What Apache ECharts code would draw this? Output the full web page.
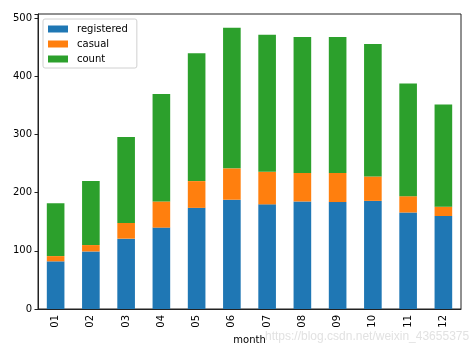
<!DOCTYPE html>
<html>
<head>
<meta charset="utf-8">
<script src="https://cdn.jsdelivr.net/npm/echarts@6/dist/echarts.min.js"></script>
<style>html,body{margin:0;padding:0;background:#fff}#c{width:474px;height:355px}</style>
</head>
<body>
<div id="c"></div>
<script>
const months = ['01','02','03','04','05','06','07','08','09','10','11','12'];
const registered = [82, 99, 121, 140, 174, 188, 180, 185, 184, 186, 166, 160];
const casual = [9, 11, 27, 45, 46, 54, 56, 49, 50, 42, 28, 16];
const count = [91, 110, 148, 185, 220, 242, 236, 234, 234, 228, 194, 176];
const yTicks = [0, 100, 200, 300, 400, 500];

const font = 'DejaVu Sans';
const chart = echarts.init(document.getElementById('c'), null, {renderer: 'canvas'});
const mkSeries = (name, data, color) => ({
  name, type: 'bar', stack: 'total', data, barWidth: '50%',
  itemStyle: {color}, emphasis: {disabled: true}
});
chart.setOption({
  animation: false,
  textStyle: {fontFamily: font},
  grid: {left: 38, right: 13, top: 14, bottom: 46, show: true, borderColor: '#222', borderWidth: 1, backgroundColor: 'transparent'},
  legend: {
    orient: 'vertical', left: 43, top: 19,
    itemWidth: 20, itemHeight: 7, itemGap: 5,
    padding: [5, 9, 4, 5],
    borderColor: '#d0d0d0', borderWidth: 1, borderRadius: 2,
    backgroundColor: 'rgba(255,255,255,0.8)',
    textStyle: {fontFamily: font, fontSize: 10, color: '#000', padding: [0, 0, 0, 4]},
    icon: 'rect',
    data: ['registered', 'casual', 'count']
  },
  xAxis: {
    type: 'category', data: months,
    name: 'month', nameLocation: 'middle', nameGap: 24,
    nameTextStyle: {fontFamily: font, fontSize: 10, color: '#000'},
    axisLine: {lineStyle: {color: '#222'}},
    axisTick: {alignWithLabel: true, length: 3.5, lineStyle: {color: '#222'}},
    axisLabel: {rotate: 90, fontFamily: font, fontSize: 10, color: '#000', margin: 6}
  },
  yAxis: {
    type: 'value', min: 0, max: 507.5, interval: 100,
    axisLine: {show: true, lineStyle: {color: '#222'}},
    axisTick: {show: true, length: 3.5, lineStyle: {color: '#222'}},
    splitLine: {show: false},
    axisLabel: {fontFamily: font, fontSize: 10, color: '#000', margin: 6,
      formatter: v => yTicks.includes(v) ? String(v) : ''}
  },
  series: [
    mkSeries('registered', registered, '#1f77b4'),
    mkSeries('casual', casual, '#ff7f0e'),
    mkSeries('count', count, '#2ca02c')
  ],
  graphic: [{
    type: 'text', left: 265, top: 331,
    style: {text: 'https://blog.csdn.net/weixin_43655375', fill: '#e2e2e2', font: '12px "Liberation Sans"'}
  }]
});
</script>
</body>
</html>
